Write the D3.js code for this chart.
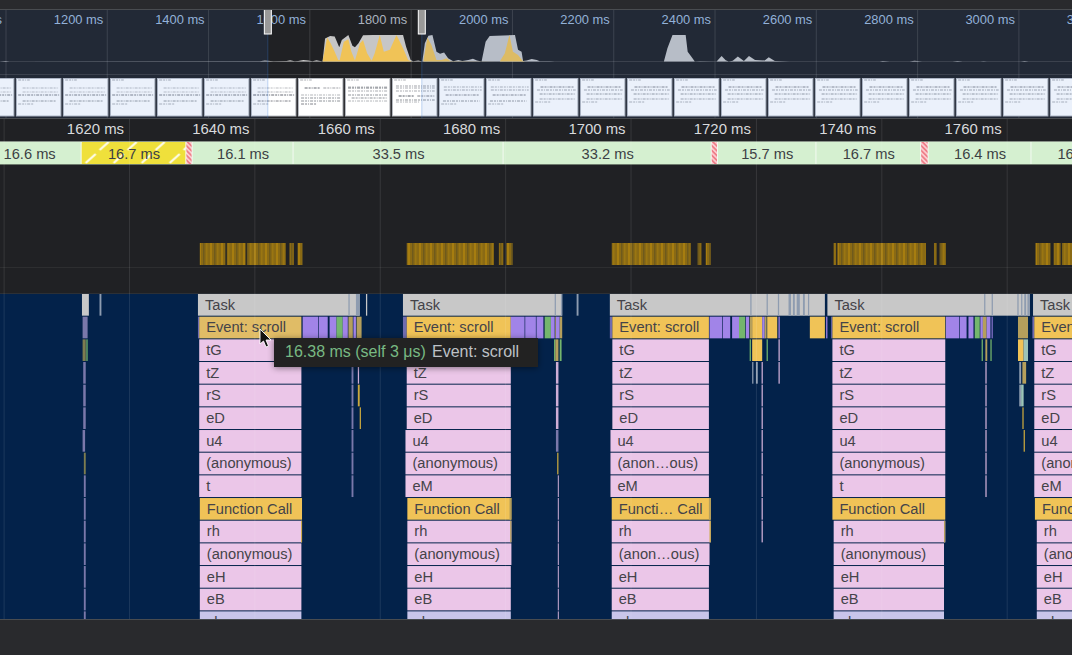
<!DOCTYPE html>
<html>
<head>
<meta charset="utf-8">
<style>
html, body { margin: 0; padding: 0; background: #292a2d; overflow: hidden; }
svg { display: block; font-family: "Liberation Sans", Arial, sans-serif; }
</style>
<script src="https://cdn.jsdelivr.net/npm/d3@7"></script>
</head>
<body>
<svg id="svg1" width="1072" height="655"></svg>
<script>
// overview: tick labels and cpu activity (ms, percent)
var overviewTicks = [1000, 1200, 1400, 1600, 1800, 2000, 2200, 2400, 2600, 2800, 3000, 3200];
var selectionMs = [1518, 1822];

var totalTimes = [990, 1000, 1008, 1502, 1512, 1529, 1555, 1562, 1571, 1578, 1588, 1598, 1606, 1614, 1624, 1626, 1631, 1641, 1650, 1659, 1664, 1677, 1685, 1690, 1697, 1706, 1726, 1785, 1791, 1800, 1805, 1815, 1823, 1828, 1835, 1843, 1851, 1858, 1866, 1874, 1884, 1894, 1902, 1914, 1923, 1931, 1940, 1948, 1956, 2006, 2012, 2019, 2022, 2029, 2039, 2049, 2055, 2075, 2085, 2300, 2307, 2317, 2343, 2347, 2354, 2361, 2371, 2404, 2414, 2422, 2428, 2436, 2446, 2458, 2468, 2480, 2499, 2507, 2519, 2533, 2548, 2726, 2732, 2746, 2785, 2795, 2810, 2870, 2880, 2890, 2925, 2931, 2938, 3005, 3012, 3020];
var totalValues = [0, 2, 0, 1, 4, 1, 2, 5, 1, 2, 6, 4, 1, 5, 1, 0, 87, 96, 94, 54, 81, 100, 59, 54, 69, 99, 100, 100, 56, 6, 1, 4, 0, 69, 97, 100, 37, 29, 34, 12, 1, 6, 2, 6, 10, 4, 0, 75, 96, 100, 44, 37, 2, 4, 9, 6, 1, 1, 0, 0, 50, 100, 100, 37, 19, 0, 1, 0, 21, 5, 0, 3, 19, 2, 21, 6, 4, 16, 2, 1, 0, 0, 2, 0, 0, 3, 0, 0, 2, 0, 0, 1, 0, 0, 2, 0];

var scriptTimes = [1626, 1635, 1642, 1650, 1657, 1660, 1668, 1677, 1683, 1690, 1700, 1706, 1714, 1723, 1729, 1739, 1747, 1759, 1772, 1785, 1795, 1802, 1825, 1833, 1841, 1851, 1861, 1871, 1879, 1976, 1986, 1995, 2002, 2012, 2021, 2025];
var scriptValues = [0, 91, 69, 37, 6, 6, 75, 84, 37, 4, 69, 81, 31, 3, 31, 100, 37, 44, 100, 50, 6, 0, 0, 91, 62, 6, 6, 12, 1, 0, 31, 100, 37, 25, 3, 0];

// filmstrip: which screenshot each thumbnail shows
var filmKinds = ["sparse", "sparse", "sparse", "sparse", "sparse", "sparse", "mixed", "blocks", "dense", "split", "sparse2", "sparse2", "grid", "grid", "grid", "grid", "grid", "grid", "grid", "grid", "grid", "grid", "grid", "grid"];
var filmRows = {
    // row, from, to (percent of thumbnail), ink
    sparse: [[3, 4, 30, .5], [20, 14, 95, .4], [27, 14, 95, .35], [34, 4, 96, .75], [46, 14, 88, .6], [54, 4, 40, .45]],
    mixed: [[3, 4, 30, .5], [20, 14, 95, .4], [27, 14, 95, .45], [34, 4, 96, .9], [46, 14, 88, .75], [54, 4, 40, .45]],
    blocks: [[3, 4, 30, .5], [20, 14, 50, .9], [20, 56, 96, .55], [34, 6, 95, .45], [40, 6, 95, .65], [46, 6, 95, .65], [54, 6, 40, .75]],
    dense: [[3, 4, 30, .5], [16, 6, 95, .45], [20, 6, 95, .8], [26, 6, 95, .5], [34, 6, 95, .65], [40, 14, 95, .65], [46, 6, 95, .45]],
    split: [[3, 4, 30, .5], [14, 8, 95, .55], [20, 8, 95, .5], [26, 8, 95, .5], [36, 14, 50, 1], [36, 56, 95, .75], [44, 8, 95, .65], [50, 8, 60, .45]],
    sparse2: [[3, 4, 30, .5], [18, 10, 95, .45], [24, 10, 95, .5], [34, 14, 90, .7], [46, 8, 90, .6], [54, 4, 40, .45]],
    grid: [[3, 4, 30, .5], [17, 16, 92, .7], [23, 8, 95, .5], [33, 14, 95, .6], [43, 14, 95, .5], [50, 4, 40, .45]]
};

// main timeline
var rulerTicks = [1600, 1620, 1640, 1660, 1680, 1700, 1720, 1740, 1760];
var framesStart = 1595.85;
var frameDurations = [16.6, 16.7, 1.0, 16.1, 33.5, 33.2, 1.0, 15.7, 16.7, 1.2, 16.4, 16.6];
var frameLabels = ["16.6 ms", "16.7 ms", "", "16.1 ms", "33.5 ms", "33.2 ms", "", "15.7 ms", "16.7 ms", "", "16.4 ms", "16.6 ms"];
var frameKinds = ["ok", "partial", "dropped", "ok", "ok", "ok", "dropped", "ok", "ok", "dropped", "ok", "ok"];

// gpu track spans: start, end
var gpuSpans = [[1631.3, 1635.4], [1635.6, 1638.6], [1638.8, 1645.0], [1645.6, 1646.3], [1646.9, 1647.7], [1664.3, 1678.2], [1679.0, 1679.7], [1680.2, 1681.2], [1697.0, 1709.6], [1710.7, 1711.3], [1712.0, 1712.8], [1732.4, 1732.8], [1733.0, 1747.1], [1748.4, 1748.8], [1749.3, 1750.3], [1764.6, 1767.0], [1767.5, 1768.6], [1768.8, 1772]];

// flame chart rows: start, end, kind, label
var rowTask = [[1612.5, 1613.6, "task"], [1615.3, 1615.6, "slate"], [1631.0, 1656.8, "task", "Task"], [1655.0, 1655.2, "slate"], [1656.2, 1656.8, "slate"], [1657.8, 1658.0, "task"], [1663.7, 1689.1, "task", "Task"], [1687.9, 1688.1, "slate"], [1688.9, 1689.1, "slate"], [1691.4, 1691.7, "slate"], [1696.7, 1731.0, "task", "Task"], [1719.1, 1719.3, "slate"], [1721.7, 1721.9, "slate"], [1723.5, 1723.7, "slate"], [1725.2, 1725.6, "slate"], [1725.9, 1726.2, "slate"], [1726.5, 1727.0, "slate"], [1727.5, 1727.8, "slate"], [1728.3, 1728.5, "slate"], [1731.4, 1763.7, "task", "Task"], [1756.4, 1756.6, "slate"], [1757.6, 1757.8, "slate"], [1761.7, 1761.9, "slate"], [1762.3, 1762.5, "slate"], [1762.8, 1763.1, "slate"], [1763.3, 1763.7, "slate"], [1764.2, 1775, "task", "Task"]];
var rowEvent = [[1612.6, 1613.4, "dim"], [1631.0, 1631.2, "edge"], [1631.2, 1647.5, "eventDim", "Event: scroll"], [1647.7, 1650.2, "purple"], [1650.3, 1651.7, "purple"], [1652.0, 1653.1, "purple"], [1653.1, 1654.1, "green"], [1654.1, 1654.9, "purple"], [1655.0, 1655.7, "tan"], [1655.8, 1656.2, "purple"], [1656.3, 1657.1, "tan"], [1663.7, 1664.3, "edge"], [1664.3, 1680.9, "event", "Event: scroll"], [1680.9, 1683.1, "purple"], [1683.2, 1684.9, "purple"], [1685.0, 1686.1, "purple"], [1686.3, 1687.3, "green"], [1687.3, 1687.9, "purple"], [1688.0, 1688.1, "tan"], [1688.1, 1688.7, "purple"], [1688.7, 1689.1, "tan"], [1696.7, 1697.1, "edge"], [1697.1, 1712.5, "event", "Event: scroll"], [1712.6, 1714.6, "purple"], [1714.7, 1715.9, "purple"], [1716.2, 1717.3, "purple"], [1717.3, 1718.3, "green"], [1718.4, 1718.9, "purple"], [1719.0, 1719.4, "tan"], [1719.4, 1721.0, "event"], [1721.0, 1721.4, "purple"], [1721.4, 1721.7, "tan"], [1721.8, 1723.4, "event"], [1723.6, 1723.8, "purple"], [1728.6, 1731.0, "event"], [1731.2, 1731.4, "purple"], [1732.0, 1732.2, "edge"], [1732.2, 1750.2, "event", "Event: scroll"], [1750.3, 1752.4, "purple"], [1752.5, 1753.6, "purple"], [1753.9, 1754.7, "purple"], [1754.9, 1755.7, "green"], [1755.8, 1756.2, "purple"], [1756.2, 1756.8, "tan"], [1756.8, 1757.4, "purple"], [1757.6, 1757.7, "purple"], [1761.8, 1763.4, "tan"], [1764.1, 1764.4, "edge"], [1764.4, 1775, "event", "Event: scroll"]];
var rowTG = [[1612.6, 1613.1, "olive"], [1613.2, 1613.4, "green"], [1631.2, 1647.5, "pink", "tG"], [1664.3, 1680.9, "pink", "tG"], [1687.8, 1688.0, "green"], [1688.0, 1688.5, "tan"], [1688.7, 1689.0, "green"], [1697.1, 1712.5, "pink", "tG"], [1719.0, 1719.2, "green"], [1719.4, 1721.0, "event"], [1721.7, 1721.9, "green"], [1723.6, 1723.8, "thin"], [1732.2, 1750.2, "pink", "tG"], [1756.0, 1756.2, "green"], [1756.6, 1756.9, "tan"], [1757.4, 1757.6, "green"], [1761.8, 1762.7, "event"], [1762.7, 1763.4, "teal"], [1764.4, 1775, "pink", "tG"]];
var rowTZ = [[1612.7, 1613.1, "dim"], [1631.2, 1647.5, "pink", "tZ"], [1655.5, 1655.8, "dim"], [1656.5, 1656.7, "thin"], [1664.3, 1680.9, "pink", "tZ"], [1688.1, 1688.5, "thin"], [1697.1, 1712.5, "pink", "tZ"], [1719.4, 1719.6, "slate"], [1720.0, 1720.3, "slate"], [1720.9, 1721.1, "thin"], [1723.6, 1723.8, "thin"], [1732.2, 1750.2, "pink", "tZ"], [1756.6, 1756.8, "thin"], [1762.0, 1762.3, "slate"], [1762.5, 1763.1, "tan"], [1764.4, 1775, "pink", "tZ"]];
var rowRS = [[1612.7, 1613.1, "dim"], [1631.2, 1647.5, "pink", "rS"], [1655.5, 1655.8, "dim"], [1656.5, 1656.8, "gold"], [1664.3, 1680.9, "pink", "rS"], [1688.1, 1688.5, "thin"], [1697.1, 1712.5, "pink", "rS"], [1720.9, 1721.1, "thin"], [1732.2, 1750.2, "pink", "rS"], [1756.6, 1756.8, "thin"], [1762.0, 1762.3, "slate"], [1762.3, 1762.7, "teal"], [1764.4, 1775, "pink", "rS"]];
var rowED = [[1612.7, 1613.1, "dim"], [1631.2, 1647.5, "pink", "eD"], [1655.5, 1655.8, "dim"], [1656.8, 1657.0, "gold"], [1664.3, 1680.9, "pink", "eD"], [1688.1, 1688.5, "thin"], [1697.1, 1712.5, "pink", "eD"], [1720.9, 1721.1, "thin"], [1732.2, 1750.2, "pink", "eD"], [1756.6, 1756.8, "thin"], [1762.5, 1762.7, "gold"], [1764.4, 1775, "pink", "eD"]];
var rowU4 = [[1612.6, 1613.0, "dim"], [1631.2, 1647.5, "pink", "u4"], [1655.5, 1655.8, "dim"], [1664.1, 1680.9, "pink", "u4"], [1688.1, 1688.5, "dim"], [1696.8, 1712.5, "pink", "u4"], [1720.9, 1721.1, "thin"], [1732.2, 1750.2, "pink", "u4"], [1756.6, 1756.8, "thin"], [1762.7, 1762.9, "gold"], [1764.4, 1775, "pink", "u4"]];
var rowAnon = [[1612.8, 1613.1, "olive"], [1631.2, 1647.5, "pink", "(anonymous)"], [1655.5, 1655.8, "dim"], [1664.1, 1680.9, "pink", "(anonymous)"], [1688.3, 1688.5, "gold"], [1696.8, 1712.5, "pink", "(anon\u2026ous)"], [1720.9, 1721.1, "thin"], [1732.2, 1750.2, "pink", "(anonymous)"], [1756.6, 1756.8, "thin"], [1764.4, 1775, "pink", "(anonymous)"]];
var rowEM = [[1612.8, 1613.1, "dim"], [1631.2, 1647.5, "pink", "t"], [1655.5, 1655.8, "dim"], [1664.1, 1680.9, "pink", "eM"], [1688.4, 1688.5, "thin"], [1696.8, 1712.5, "pink", "eM"], [1720.9, 1721.1, "thin"], [1732.2, 1750.2, "pink", "t"], [1756.6, 1756.8, "thin"], [1764.4, 1775, "pink", "eM"]];
var rowFunc = [[1612.8, 1613.1, "dim"], [1631.3, 1647.6, "event", "Function Call"], [1664.4, 1681.0, "event", "Function Call"], [1680.7, 1681.0, "tan"], [1688.4, 1688.5, "thin"], [1697.0, 1712.8, "event", "Functi\u2026 Call"], [1712.5, 1712.8, "tan"], [1720.9, 1721.1, "thin"], [1732.2, 1750.2, "event", "Function Call"], [1764.5, 1775, "event", "Function Call"]];
var rowRh = [[1612.8, 1613.1, "dim"], [1631.3, 1647.6, "pink", "rh"], [1647.45, 1647.6, "gold"], [1664.4, 1681.0, "pink", "rh"], [1680.8, 1681.0, "tan"], [1688.4, 1688.5, "thin"], [1697.0, 1712.8, "pink", "rh"], [1712.6, 1712.8, "gold"], [1720.9, 1721.1, "thin"], [1732.4, 1750.2, "pink", "rh"], [1750.0, 1750.2, "tan"], [1764.8, 1775, "pink", "rh"]];
var rowAnon2 = [[1612.8, 1613.1, "dim"], [1631.3, 1647.5, "pink", "(anonymous)"], [1664.4, 1681.0, "pink", "(anonymous)"], [1688.4, 1688.5, "thin"], [1697.0, 1712.6, "pink", "(anon\u2026ous)"], [1732.4, 1750.0, "pink", "(anonymous)"], [1764.8, 1775, "pink", "(anonymous)"]];
var rowEH = [[1612.8, 1613.1, "dim"], [1631.3, 1647.5, "pink", "eH"], [1664.4, 1680.9, "pink", "eH"], [1688.4, 1688.5, "thin"], [1697.0, 1712.5, "pink", "eH"], [1732.4, 1750.0, "pink", "eH"], [1764.8, 1775, "pink", "eH"]];
var rowEB = [[1612.8, 1613.1, "dim"], [1631.3, 1647.5, "pink", "eB"], [1664.4, 1680.9, "pink", "eB"], [1688.4, 1688.5, "thin"], [1697.0, 1712.5, "pink", "eB"], [1732.4, 1750.0, "pink", "eB"], [1764.8, 1775, "pink", "eB"]];
var rowLast = [[1612.8, 1613.1, "dim"], [1631.3, 1647.5, "lav", "ch"], [1664.4, 1680.9, "lav", "ch"], [1688.4, 1688.5, "thin"], [1697.0, 1712.5, "lav", "ch"], [1732.4, 1750.0, "lav", "ch"], [1764.8, 1775, "lav", "ch"]];
var flameRows = [rowTask, rowEvent, rowTG, rowTZ, rowRS, rowED, rowU4, rowAnon, rowEM, rowFunc, rowRh, rowAnon2, rowEH, rowEB, rowLast];

var kindColor = {
    task: "#c8c8c8", slate: "#8e9cb0", event: "#f0c357", eventDim: "#e0bc66", pink: "#ebc6e8",
    lav: "#c9c5ea", purple: "#a184e8", green: "#74b66d", tan: "#b59f5c", edge: "#6f6cb0",
    dim: "#7a78aa", gold: "#c9a83e", olive: "#7d7c50", teal: "#9cc4b8", thin: "#cfaed6"
};

var svg1 = d3.select("#svg1"),
    width = +svg1.attr("width"),
    height = +svg1.attr("height"),
    rowHeight = 22.67,
    flameTop = 294,
    flameBottom = 619;

var overviewX = d3.scaleLinear().domain([1000, 3000]).range([5.5, 1018.4]);
var mainX = d3.scaleLinear().domain([1600, 1760]).range([3.6, 1006.7]);
var cpuY = d3.scaleLinear().domain([0, 100]).range([61.5, 35]);
var flameY = d3.scaleLinear().domain([0, flameRows.length]).range([flameTop, flameTop + flameRows.length * rowHeight]);
var filmX = d3.scaleLinear().domain([-1, 0]).range([-30.6, 16.4]);

var defs = svg1.append("defs");

var gpuPattern = defs.append("pattern").attr("id", "gpuStripes").attr("patternUnits", "userSpaceOnUse").attr("width", 11).attr("height", 10);
gpuPattern.append("rect").attr("width", 11).attr("height", 10).attr("fill", "#8a6a14");
gpuPattern.append("rect").attr("x", 1).attr("width", 2).attr("height", 10).attr("fill", "#a67d10");
gpuPattern.append("rect").attr("x", 5).attr("width", 1.5).attr("height", 10).attr("fill", "#6f5a1c");
gpuPattern.append("rect").attr("x", 8).attr("width", 1.5).attr("height", 10).attr("fill", "#9a7612");

// yellow frame: broken white diagonals
var partialPattern = defs.append("pattern").attr("id", "partialStripes").attr("patternUnits", "userSpaceOnUse")
    .attr("width", 28).attr("height", 22);
partialPattern.append("rect").attr("width", 28).attr("height", 22).attr("fill", "#efe03b");
partialPattern.append("path").attr("d", "M4,21L14,12M18,8L27,0").attr("stroke", "#fff").attr("stroke-width", 2.3).attr("stroke-opacity", 0.88).attr("fill", "none");

var droppedPattern = defs.append("pattern").attr("id", "droppedStripes").attr("patternUnits", "userSpaceOnUse")
    .attr("width", 3.4).attr("height", 3.4).attr("patternTransform", "rotate(-45)");
droppedPattern.append("rect").attr("width", 3.4).attr("height", 3.4).attr("fill", "#fbcdd0");
droppedPattern.append("rect").attr("width", 1.7).attr("height", 3.4).attr("fill", "#ef7f89");

defs.append("clipPath").attr("id", "flameClip").append("rect")
    .attr("x", 0).attr("y", flameTop).attr("width", width).attr("height", flameBottom - flameTop);

var shadow = defs.append("filter").attr("id", "tipShadow").attr("x", "-10%").attr("y", "-30%").attr("width", "120%").attr("height", "170%");
shadow.append("feDropShadow").attr("dx", 0).attr("dy", 1).attr("stdDeviation", 3).attr("flood-color", "#000").attr("flood-opacity", 0.45);

// panels
svg1.append("rect").attr("width", width).attr("height", height).attr("fill", "#292a2d");
svg1.append("rect").attr("y", 10).attr("width", width).attr("height", flameTop - 10).attr("fill", "#202124");
svg1.append("rect").attr("y", flameTop).attr("width", width).attr("height", flameBottom - flameTop).attr("fill", "#03224a");

// overview grid
var overviewGrid = svg1.append("g").attr("transform", "translate(0,9.5)")
    .call(d3.axisBottom(overviewX).tickValues(overviewTicks).tickSize(109).tickFormat(""));
overviewGrid.select(".domain").remove();
overviewGrid.selectAll("line").attr("stroke", "#fff").attr("stroke-opacity", 0.13);

// cpu activity
var totalArea = d3.area().x(function (d, i) { return overviewX(totalTimes[i]); }).y0(cpuY(0)).y1(function (d) { return cpuY(d); });
var scriptArea = d3.area().x(function (d, i) { return overviewX(scriptTimes[i]); }).y0(cpuY(0)).y1(function (d) { return cpuY(d); });
svg1.append("path").attr("d", totalArea(totalValues)).attr("fill", "#c6c6c6");
svg1.append("path").attr("d", scriptArea(scriptValues)).attr("fill", "#f0c357");

svg1.append("line").attr("x1", 0).attr("x2", width).attr("y1", 61.5).attr("y2", 61.5).attr("stroke", "#fff").attr("stroke-opacity", 0.12);
svg1.append("line").attr("x1", 0).attr("x2", width).attr("y1", 74.5).attr("y2", 74.5).attr("stroke", "#fff").attr("stroke-opacity", 0.12);

// filmstrip
var thumbWidth = 44.5, thumbHeight = 37.5, thumbTop = 78.5;
var thumbRowX = d3.scaleLinear().domain([0, 100]).range([0, thumbWidth]);
var thumbRowY = d3.scaleLinear().domain([0, 100]).range([0, thumbHeight * 1.25]);
var thumbs = svg1.append("g").selectAll("g")
    .data(filmKinds)
    .enter()
    .append("g")
    .attr("transform", function (d, i) { return "translate(" + filmX(i - 1) + "," + thumbTop + ")"; });
thumbs.append("rect")
    .attr("width", thumbWidth)
    .attr("height", thumbHeight)
    .attr("fill", "#fff")
    .attr("stroke", "#b9bcc2")
    .attr("stroke-width", 1);
thumbs.selectAll("line")
    .data(function (d) { return filmRows[d]; })
    .enter()
    .append("line")
    .attr("x1", function (d) { return thumbRowX(d[1]); })
    .attr("x2", function (d) { return thumbRowX(d[2]); })
    .attr("y1", function (d) { return Math.round(thumbRowY(d[0])) + 0.5; })
    .attr("y2", function (d) { return Math.round(thumbRowY(d[0])) + 0.5; })
    .attr("stroke", "#555a64")
    .attr("stroke-width", 1)
    .attr("stroke-dasharray", "3 1 2 1 1 1")
    .attr("stroke-opacity", function (d) { return d[3]; });

// everything outside the selected window gets a blue tint
var windowX = selectionMs.map(overviewX);
svg1.append("rect").attr("y", 10).attr("width", windowX[0]).attr("height", 108).attr("fill", "#3879d9").attr("fill-opacity", 0.1);
svg1.append("rect").attr("x", windowX[1]).attr("y", 10).attr("width", width - windowX[1]).attr("height", 108).attr("fill", "#3879d9").attr("fill-opacity", 0.1);
svg1.selectAll(".windowEdge")
    .data(windowX)
    .enter()
    .append("line")
    .attr("class", "windowEdge")
    .attr("x1", function (d) { return d; })
    .attr("x2", function (d) { return d; })
    .attr("y1", 10)
    .attr("y2", 118)
    .attr("stroke", "#3879d9")
    .attr("stroke-opacity", 0.3);

// overview labels
var overviewLabels = svg1.append("g").attr("transform", "translate(0,9.5)")
    .call(d3.axisBottom(overviewX).tickValues(overviewTicks).tickSize(0).tickFormat(function (d) { return d + " ms"; }));
overviewLabels.select(".domain").remove();
overviewLabels.selectAll("text")
    .attr("x", -4)
    .attr("y", 14)
    .attr("dy", 0)
    .attr("text-anchor", "end")
    .attr("font-size", 12.9)
    .attr("font-family", "\"Liberation Sans\", Arial, sans-serif")
    .attr("fill", function (d) {
        return d === 1800 ? "#aab3bf" : "#93b1d8";
    });

// window handles
svg1.selectAll(".windowHandle")
    .data(windowX)
    .enter()
    .append("rect")
    .attr("class", "windowHandle")
    .attr("x", function (d) { return d - 3.5; })
    .attr("y", 9.5)
    .attr("width", 7)
    .attr("height", 24.5)
    .attr("fill", "#999")
    .attr("stroke", "#fff")
    .attr("stroke-width", 1);

svg1.append("line").attr("x1", 0).attr("x2", width).attr("y1", 9.5).attr("y2", 9.5).attr("stroke", "#494c50");
svg1.append("line").attr("x1", 0).attr("x2", width).attr("y1", 118.5).attr("y2", 118.5).attr("stroke", "#494c50");
svg1.append("line").attr("x1", 0).attr("x2", width).attr("y1", 293.5).attr("y2", 293.5).attr("stroke", "#2c3036");

// frames track, the sliver of white between frames comes from this strip
svg1.append("rect").attr("y", 142).attr("width", width).attr("height", 22).attr("fill", "#f4faf2");
var frameEdges = [framesStart];
frameDurations.forEach(function (d, i) { frameEdges.push(frameEdges[i] + d); });
var frameFill = { ok: "#d5f0d0", partial: "url(#partialStripes)", dropped: "url(#droppedStripes)" };
var frames = svg1.append("g").selectAll("g")
    .data(frameDurations)
    .enter()
    .append("g")
    .attr("transform", function (d, i) { return "translate(" + mainX(frameEdges[i]) + ",142)"; });
frames.append("rect")
    .attr("width", function (d, i) { return mainX(frameEdges[i + 1]) - mainX(frameEdges[i]) - 1; })
    .attr("height", 22)
    .attr("fill", function (d, i) { return frameFill[frameKinds[i]]; });
frames.append("text")
    .attr("x", function (d, i) { return (mainX(frameEdges[i + 1]) - mainX(frameEdges[i])) / 2; })
    .attr("y", 16.5)
    .attr("text-anchor", "middle")
    .attr("font-size", 14.67)
    .attr("fill", "#3c3f44")
    .text(function (d, i) { return frameLabels[i]; });
svg1.append("line").attr("x1", 0).attr("x2", width).attr("y1", 141.5).attr("y2", 141.5).attr("stroke", "#8b958a");
svg1.append("line").attr("x1", 0).attr("x2", width).attr("y1", 164.5).attr("y2", 164.5).attr("stroke", "#6d7a6c");

// gpu track
svg1.append("g").selectAll("rect")
    .data(gpuSpans)
    .enter()
    .append("rect")
    .attr("x", function (d) { return mainX(d[0]); })
    .attr("y", 243)
    .attr("width", function (d) { return mainX(d[1]) - mainX(d[0]); })
    .attr("height", 22)
    .attr("fill", "url(#gpuStripes)");
svg1.append("line").attr("x1", 0).attr("x2", width).attr("y1", 267.5).attr("y2", 267.5).attr("stroke", "#fff").attr("stroke-opacity", 0.06);

// flame chart
var flame = svg1.append("g").attr("clip-path", "url(#flameClip)");
var rows = flame.selectAll("g")
    .data(flameRows)
    .enter()
    .append("g")
    .attr("transform", function (d, i) { return "translate(0," + flameY(i) + ")"; });
rows.selectAll("rect")
    .data(function (d) { return d; })
    .enter()
    .append("rect")
    .attr("x", function (d) { return mainX(d[0]); })
    .attr("y", 0)
    .attr("width", function (d) { return Math.max(1, mainX(d[1]) - mainX(d[0])); })
    .attr("height", rowHeight - 1)
    .attr("fill", function (d) { return kindColor[d[2]]; });
rows.selectAll("text")
    .data(function (d) { return d.filter(function (e) { return e[3]; }); })
    .enter()
    .append("text")
    .attr("x", function (d) { return mainX(d[0]) + 7; })
    .attr("y", 15.6)
    .attr("font-size", 14.67)
    .attr("fill", "#444349")
    .text(function (d) { return d[3]; });

// ruler, grid lines run down through the flame chart
var ruler = svg1.append("g").attr("transform", "translate(0,119)")
    .call(d3.axisBottom(mainX).tickValues(rulerTicks).tickSize(flameBottom - 119).tickFormat(function (d) { return d + " ms"; }));
ruler.select(".domain").remove();
ruler.selectAll("line").attr("stroke", "#fff").attr("stroke-opacity", 0.1);
ruler.selectAll("text")
    .attr("x", -5.5)
    .attr("y", 15)
    .attr("dy", 0)
    .attr("text-anchor", "end")
    .attr("font-size", 14.9)
    .attr("font-family", "\"Liberation Sans\", Arial, sans-serif")
    .attr("fill", "#d8dadd");
ruler.selectAll(".tick")
    .filter(function (d) { return d === 1600; })
    .select("text")
    .remove();

// bottom edge
svg1.append("line").attr("x1", 0).attr("x2", width).attr("y1", flameBottom + 0.5).attr("y2", flameBottom + 0.5).attr("stroke", "#494c50");

// tooltip of the hovered entry
var tip = svg1.append("g").attr("transform", "translate(274,338)");
tip.append("rect").attr("width", 264).attr("height", 29).attr("fill", "#202124").attr("filter", "url(#tipShadow)");
tip.append("text").attr("x", 11).attr("y", 19).attr("font-size", 16).attr("fill", "#78b983").text("16.38 ms (self 3 \u03bcs)");
tip.append("text").attr("x", 158).attr("y", 19).attr("font-size", 16).attr("fill", "#bdc1c6").text("Event: scroll");

// mouse pointer
svg1.append("path")
    .attr("transform", "translate(260,329)")
    .attr("d", "M0,0 L0,15 L3.5,12 L6,18 L8.5,17 L6,11 L11,11 Z")
    .attr("fill", "#111")
    .attr("stroke", "#fff")
    .attr("stroke-width", 0.9);
</script>
</body>
</html>
